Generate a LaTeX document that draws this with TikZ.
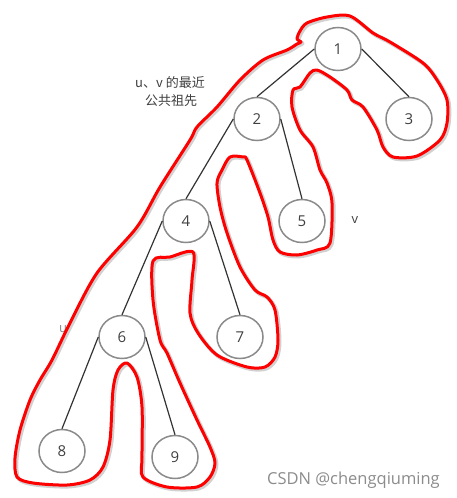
\documentclass[tikz,border=0pt]{standalone}
\usepackage{fontspec}
\setmainfont{Open Sans}
\newfontfamily\cjk{Noto Sans CJK SC}
\usetikzlibrary{shapes.geometric}
\definecolor{nodegray}{HTML}{8A8A8A}
\definecolor{edgegray}{HTML}{333333}
\definecolor{txtgray}{HTML}{404040}
\definecolor{wmgray}{HTML}{8C8C8C}
\definecolor{redline}{HTML}{FF0000}
\tikzset{
  tnode/.style={ellipse, draw=nodegray, line width=1.5pt, fill=white, minimum width=46pt, minimum height=43pt, inner sep=0pt, font=\fontsize{15}{15}\selectfont, text=txtgray},
  tedge/.style={draw=edgegray, line width=1.2pt},
  lbl/.style={font=\fontsize{13}{13}\selectfont, text=txtgray, inner sep=0pt},
  redpath/.style={draw=redline, line width=3pt, line join=round, line cap=round},
  shadowpath/.style={draw=black, opacity=0.18, line width=4pt, line join=round, line cap=round}
}
\begin{document}
\begin{tikzpicture}[x=1pt,y=-1pt]
\useasboundingbox (0,0) rectangle (457,498);
\fill[white] (0,0) rectangle (457,498);
% nodes
\node[tnode] (n1) at (338,49) {1};
\node[tnode] (n2) at (257,119) {2};
\node[tnode] (n3) at (409,119) {3};
\node[tnode] (n4) at (186,221) {4};
\node[tnode] (n5) at (302,221) {5};
\node[tnode] (n6) at (122,337) {6};
\node[tnode] (n7) at (240,337) {7};
\node[tnode] (n8) at (62,451) {8};
\node[tnode] (n9) at (175,457) {9};
% edges
\draw[tedge] (n1.west) -- (n2.north);
\draw[tedge] (n1.east) -- (n3.north);
\draw[tedge] (n2.west) -- (n4.north);
\draw[tedge] (n2.east) -- (n5.north);
\draw[tedge] (n4.west) -- (n6.north);
\draw[tedge] (n4.east) -- (n7.north);
\draw[tedge] (n6.west) -- (n8.north);
\draw[tedge] (n6.east) -- (n9.north);
% labels
\node[lbl, font=\cjk\fontsize{13}{13}\selectfont] (lab1) at (170,83) {u、v 的最近};
\node[lbl, font=\cjk\fontsize{13}{13}\selectfont] (lab2) at (171,101) {公共祖先};
\node[lbl] (labv) at (355,220) {v};
\node[lbl, text=nodegray] (labu) at (63,329) {u};
\node[lbl, font=\fontsize{16.5}{16.5}\selectfont, text=wmgray, anchor=west] (wm) at (267,480) {CSDN @chengqiuming};
% red freehand outline
\def\redcurve{plot[smooth cycle, tension=0.5] coordinates {
(327,17) (350,16) (373,33) (390,42) (423,63) (437,80) (447,100) (447,123) (440,140) (417,156) (393,157) (383,147) (377,130) (363,107) (352,100) (347,90) (330,77) (317,70) (310,73) (300,87) (293,90) (292,107) (300,130) (313,147) (320,170) (327,183) (332,203) (330,243) (317,250) (297,255) (280,252) (273,240) (268,217) (260,193) (247,160) (243,157) (230,157) (222,170) (217,183) (220,207) (227,233) (240,267) (255,290) (267,297) (275,310) (278,340) (275,357) (265,367) (247,367) (217,355) (198,333) (190,313) (192,280) (193,252) (170,257) (153,261) (153,300) (160,340) (167,353) (180,383) (197,420) (210,447) (215,463) (210,477) (197,487) (167,487) (143,477) (142,457) (142,407) (137,377) (127,363) (118,370) (113,390) (110,440) (103,467) (90,480) (67,485) (33,483) (17,477) (15,458) (20,430) (30,400) (40,380) (52,360) (70,323) (97,273) (137,227) (160,187) (190,140) (197,127) (217,107) (240,80) (263,60) (287,50) (297,44) (301,42) (297,39) (300,31) (307,23)
}}
\draw[shadowpath, xshift=1.5pt, yshift=-1.5pt] \redcurve;
\draw[redpath] \redcurve;
\end{tikzpicture}
\end{document}
